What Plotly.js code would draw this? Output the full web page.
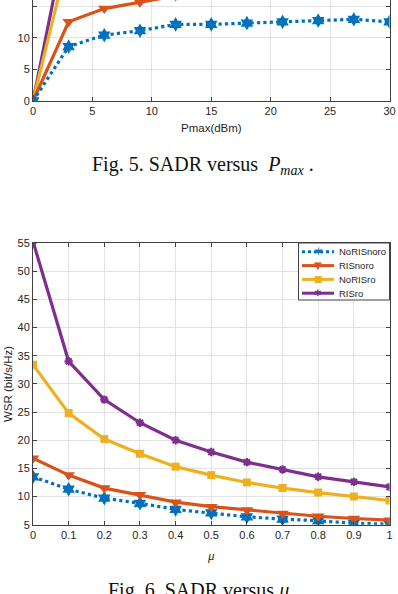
<!DOCTYPE html>
<html>
<head>
<meta charset="utf-8">
<script src="https://cdn.plot.ly/plotly-3.0.1.min.js"></script>
<style>html,body{margin:0;padding:0;background:#fff;}#chart{width:398px;height:594px;}</style>
</head>
<body>
<div id="chart"></div>
<script>
// Fig. 5 (top, cropped) : SADR versus Pmax
const pmax = [0, 3, 6, 9, 12, 15, 18, 21, 24, 27, 30];
const f5NoRISnoro = [0, 8.6, 10.4, 11.1, 12.1, 12.1, 12.3, 12.5, 12.7, 12.9, 12.5];
const f5RISnoro   = [0, 12.5, 14.6, 15.6, 16.6, 17.2, 17.6, 17.9, 18.1, 18.3, 18.4];
const f5NoRISro   = [0, 23, 27, 29, 30, 30.6, 31, 31.3, 31.5, 31.7, 31.8];
const f5RISro     = [0, 28, 34, 38, 40, 41, 42, 42.5, 43, 43.3, 43.5];

// Fig. 6 (bottom) : WSR versus mu
const mu = [0, 0.1, 0.2, 0.3, 0.4, 0.5, 0.6, 0.7, 0.8, 0.9, 1];
const NoRISnoro = [13.5, 11.3, 9.7, 8.8, 7.7, 7.1, 6.4, 6.0, 5.7, 5.25, 5.1];
const RISnoro   = [16.8, 13.8, 11.5, 10.3, 9.0, 8.2, 7.6, 7.0, 6.5, 6.1, 5.8];
const NoRISro   = [33.4, 24.8, 20.2, 17.6, 15.3, 13.8, 12.5, 11.5, 10.7, 10.0, 9.3];
const RISro     = [55.3, 34.0, 27.2, 23.1, 20.0, 17.9, 16.1, 14.8, 13.5, 12.6, 11.7];

const names = ['NoRISnoro', 'RISnoro', 'NoRISro', 'RISro'];
const xTickVals5 = [0, 5, 10, 15, 20, 25, 30];
const yTickVals5 = [0, 5, 10, 15];
const xTickVals6 = [0, 0.1, 0.2, 0.3, 0.4, 0.5, 0.6, 0.7, 0.8, 0.9, 1];
const xTickText6 = ['0', '0.1', '0.2', '0.3', '0.4', '0.5', '0.6', '0.7', '0.8', '0.9', '1'];
const yTickVals6 = [5, 10, 15, 20, 25, 30, 35, 40, 45, 50, 55];

const colors = ['#0072BD', '#D95319', '#EDB120', '#7E2F8E'];
const W = 398, H = 594;
const px = v => v / W;
const py = v => (H - v) / H;

function styles(i) {
  const s = [
    {line: {color: colors[0], width: 3.2, dash: 'dot'}, marker: {symbol: 'hexagram', size: 11, color: colors[0]}},
    {line: {color: colors[1], width: 3.2}, marker: {symbol: 'triangle-down', size: 11, color: colors[1]}},
    {line: {color: colors[2], width: 3.2}, marker: {symbol: 'square', size: 8, color: colors[2]}},
    {line: {color: colors[3], width: 3.2}, marker: {symbol: 'asterisk-open', size: 7, color: colors[3], line: {color: colors[3], width: 2.2}}}
  ];
  return s[i];
}

const f5 = [f5NoRISnoro, f5RISnoro, f5NoRISro, f5RISro];
const f6 = [NoRISnoro, RISnoro, NoRISro, RISro];
const traces = [];
for (let i = 3; i >= 0; i--) {
  traces.push(Object.assign({x: pmax, y: f5[i], xaxis: 'x', yaxis: 'y', mode: 'lines+markers', showlegend: false, name: names[i]}, styles(i)));
}
for (let i = 0; i < 4; i++) {
  traces.push(Object.assign({x: mu, y: f6[i], xaxis: 'x2', yaxis: 'y2', mode: 'lines+markers', showlegend: false, name: names[i]}, styles(i)));
}

const tickFont = {family: 'Liberation Sans, Arial, sans-serif', size: 11, color: '#262626'};
const axCommon = {
  showgrid: true, gridcolor: '#e3e3e3', gridwidth: 1, zeroline: false,
  showline: true, linecolor: '#404040', linewidth: 1,
  ticks: 'inside', ticklen: 4, tickcolor: '#404040', tickwidth: 1,
  tickfont: tickFont, automargin: false
};

// compact legend (MATLAB style) built from series names/styles
const legBox = {x0: 298.5, x1: 389.5, y0: 243, y1: 300};
const legRows = [251.8, 265.6, 279.4, 293.2];
const legGlyph = ['\u2736', '\u25BC', '\u25A0', '\u2731'];
const legGlyphSize = [13, 10, 9, 9];
const shapes = [{type: 'rect', xref: 'paper', yref: 'paper', x0: px(legBox.x0), x1: px(legBox.x1), y0: py(legBox.y1), y1: py(legBox.y0),
  fillcolor: '#ffffff', line: {color: '#404040', width: 1}, layer: 'above'}];
const annotations = [];
for (let i = 0; i < 4; i++) {
  shapes.push({type: 'line', xref: 'paper', yref: 'paper', x0: px(302), x1: px(334), y0: py(legRows[i]), y1: py(legRows[i]),
    line: {color: colors[i], width: 3, dash: i === 0 ? 'dot' : 'solid'}, layer: 'above'});
  annotations.push({text: legGlyph[i], x: px(318.3), y: py(legRows[i]), xref: 'paper', yref: 'paper', showarrow: false,
    xanchor: 'center', yanchor: 'middle', font: {family: 'DejaVu Sans, sans-serif', size: legGlyphSize[i], color: colors[i]}});
  annotations.push({text: names[i], x: px(337), y: py(legRows[i]), xref: 'paper', yref: 'paper', showarrow: false,
    xanchor: 'left', yanchor: 'middle', font: {family: 'Liberation Sans, Arial, sans-serif', size: 9.5, color: '#262626'}});
}

annotations.push(
  {text: 'Pmax(dBm)', x: px(211), y: py(128), xref: 'paper', yref: 'paper', showarrow: false, xanchor: 'center', yanchor: 'middle',
   font: {family: 'Liberation Sans, Arial, sans-serif', size: 11.5, color: '#262626'}},
  {text: 'Fig. 5. SADR versus\u00A0 <i>P</i><sub><i>max</i></sub>\u00A0.', x: px(203), y: py(166), xref: 'paper', yref: 'paper', showarrow: false, xanchor: 'center', yanchor: 'middle',
   font: {family: 'Liberation Serif, Times New Roman, serif', size: 20, color: '#111111'}},
  {text: 'WSR (bit/s/Hz)', x: px(8), y: py(384), xref: 'paper', yref: 'paper', showarrow: false, textangle: -90, xanchor: 'center', yanchor: 'middle',
   font: {family: 'Liberation Sans, Arial, sans-serif', size: 11.5, color: '#262626'}},
  {text: '<i>μ</i>', x: px(211), y: py(555), xref: 'paper', yref: 'paper', showarrow: false, xanchor: 'center', yanchor: 'middle',
   font: {family: 'Liberation Serif, Times New Roman, serif', size: 13, color: '#262626'}},
  {text: 'Fig. 6. SADR versus <i>μ</i>', x: px(198), y: py(590), xref: 'paper', yref: 'paper', showarrow: false, xanchor: 'center', yanchor: 'middle',
   font: {family: 'Liberation Serif, Times New Roman, serif', size: 20, color: '#111111'}}
);

const layout = {
  width: W, height: H,
  margin: {l: 0, r: 0, t: 0, b: 0},
  paper_bgcolor: '#ffffff', plot_bgcolor: '#ffffff',
  showlegend: false,
  xaxis: Object.assign({}, axCommon, {domain: [px(33), px(389.5)], range: [0, 30], tickvals: xTickVals5, mirror: false, anchor: 'y'}),
  yaxis: Object.assign({}, axCommon, {domain: [py(101), 1], range: [0, 15.95], tickvals: yTickVals5, mirror: 'allticks', anchor: 'x'}),
  xaxis2: Object.assign({}, axCommon, {domain: [px(33), px(389.5)], range: [0, 1], tickvals: xTickVals6, ticktext: xTickText6, mirror: 'allticks', anchor: 'y2'}),
  yaxis2: Object.assign({}, axCommon, {domain: [py(524.7), py(243)], range: [5, 55], tickvals: yTickVals6, mirror: 'allticks', anchor: 'x2'}),
  shapes: shapes,
  annotations: annotations
};

Plotly.newPlot('chart', traces, layout, {staticPlot: true, displayModeBar: false});
</script>
</body>
</html>
